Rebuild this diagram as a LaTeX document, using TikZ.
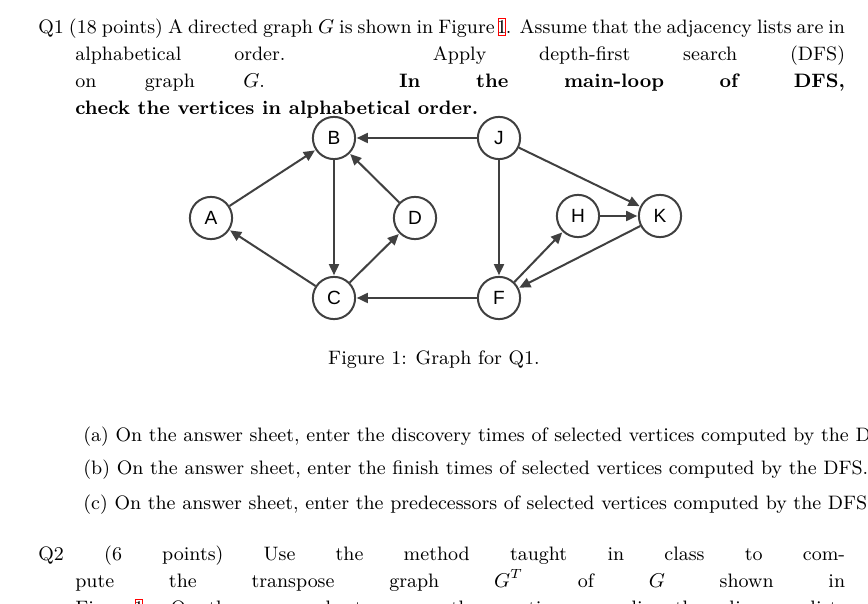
\documentclass[tikz,border=0pt]{standalone}
\usepackage{fontspec}
\newfontfamily\gfont{Liberation Sans}
\usetikzlibrary{arrows.meta}
\definecolor{ec}{HTML}{404040}
\begin{document}
\begin{tikzpicture}[x=0.45pt,y=-0.45pt,
  v/.style={circle,draw=ec,line width=0.9pt,minimum size=19pt,inner sep=0pt,font=\gfont\fontsize{8.6}{9}\selectfont},
  e/.style={-{Triangle[length=5pt,width=4.5pt]},draw=ec,line width=0.9pt,shorten >=0.3pt},
  para/.style={anchor=north west,inner sep=0pt,align=justify,font=\fontsize{8.75}{12.2}\selectfont},
  item/.style={anchor=north west,inner sep=0pt,font=\fontsize{8.75}{12.2}\selectfont}]
\useasboundingbox (0,0) rectangle (868,604);
\newcommand{\figref}{Figure\,\fcolorbox{red}{white}{\kern-1.5pt 1\kern-1.5pt}}
\setlength{\fboxsep}{0.6pt}\setlength{\fboxrule}{0.4pt}
\node[para,text width=363pt] (q1) at (38,18) {\hangindent=16.6pt\hangafter=1 Q1 (18 points) A directed graph $G$ is shown in \figref. Assume that the adjacency lists are in\linebreak alphabetical order. Apply depth-first search (DFS) on graph $G$. \textbf{In the main-loop of DFS,\linebreak check the vertices in alphabetical order.}\par};
\node[v] (B) at (334,138) {B};
\node[v] (J) at (499,138) {J};
\node[v] (A) at (211,218) {A};
\node[v] (D) at (415,218) {D};
\node[v] (H) at (578,216) {H};
\node[v] (K) at (660,216) {K};
\node[v] (C) at (334,298) {C};
\node[v] (F) at (499,298) {F};
\draw[e] (A) -- (B);
\draw[e] (C) -- (A);
\draw[e] (B) -- (C);
\draw[e] (D) -- (B);
\draw[e] (C) -- (D);
\draw[e] (J) -- (B);
\draw[e] (J) -- (F);
\draw[e] (J) -- (K);
\draw[e] (F) -- (C);
\draw[e] (F) -- (H);
\draw[e] (H) -- (K);
\draw[e] (K) -- (F);
\node[font=\fontsize{8.75}{12}\selectfont] (cap) at (434,360) {Figure 1: Graph for Q1.};
\node[item] (a) at (83,426) {(a) On the answer sheet, enter the discovery times of selected vertices computed by the DFS.};
\node[item] (b) at (83,459) {(b) On the answer sheet, enter the finish times of selected vertices computed by the DFS.};
\node[item] (c) at (83,494) {(c) On the answer sheet, enter the predecessors of selected vertices computed by the DFS.};
\node[para,text width=363pt] (q2) at (38,545) {\hangindent=16.6pt\hangafter=1 Q2 (6 points) Use the method taught in class to compute the transpose graph $G^T$ of $G$ shown in\linebreak \figref. On the answer sheet, answer the questions regarding the adjacency lists of $G^T$.\par};
\end{tikzpicture}
\end{document}
